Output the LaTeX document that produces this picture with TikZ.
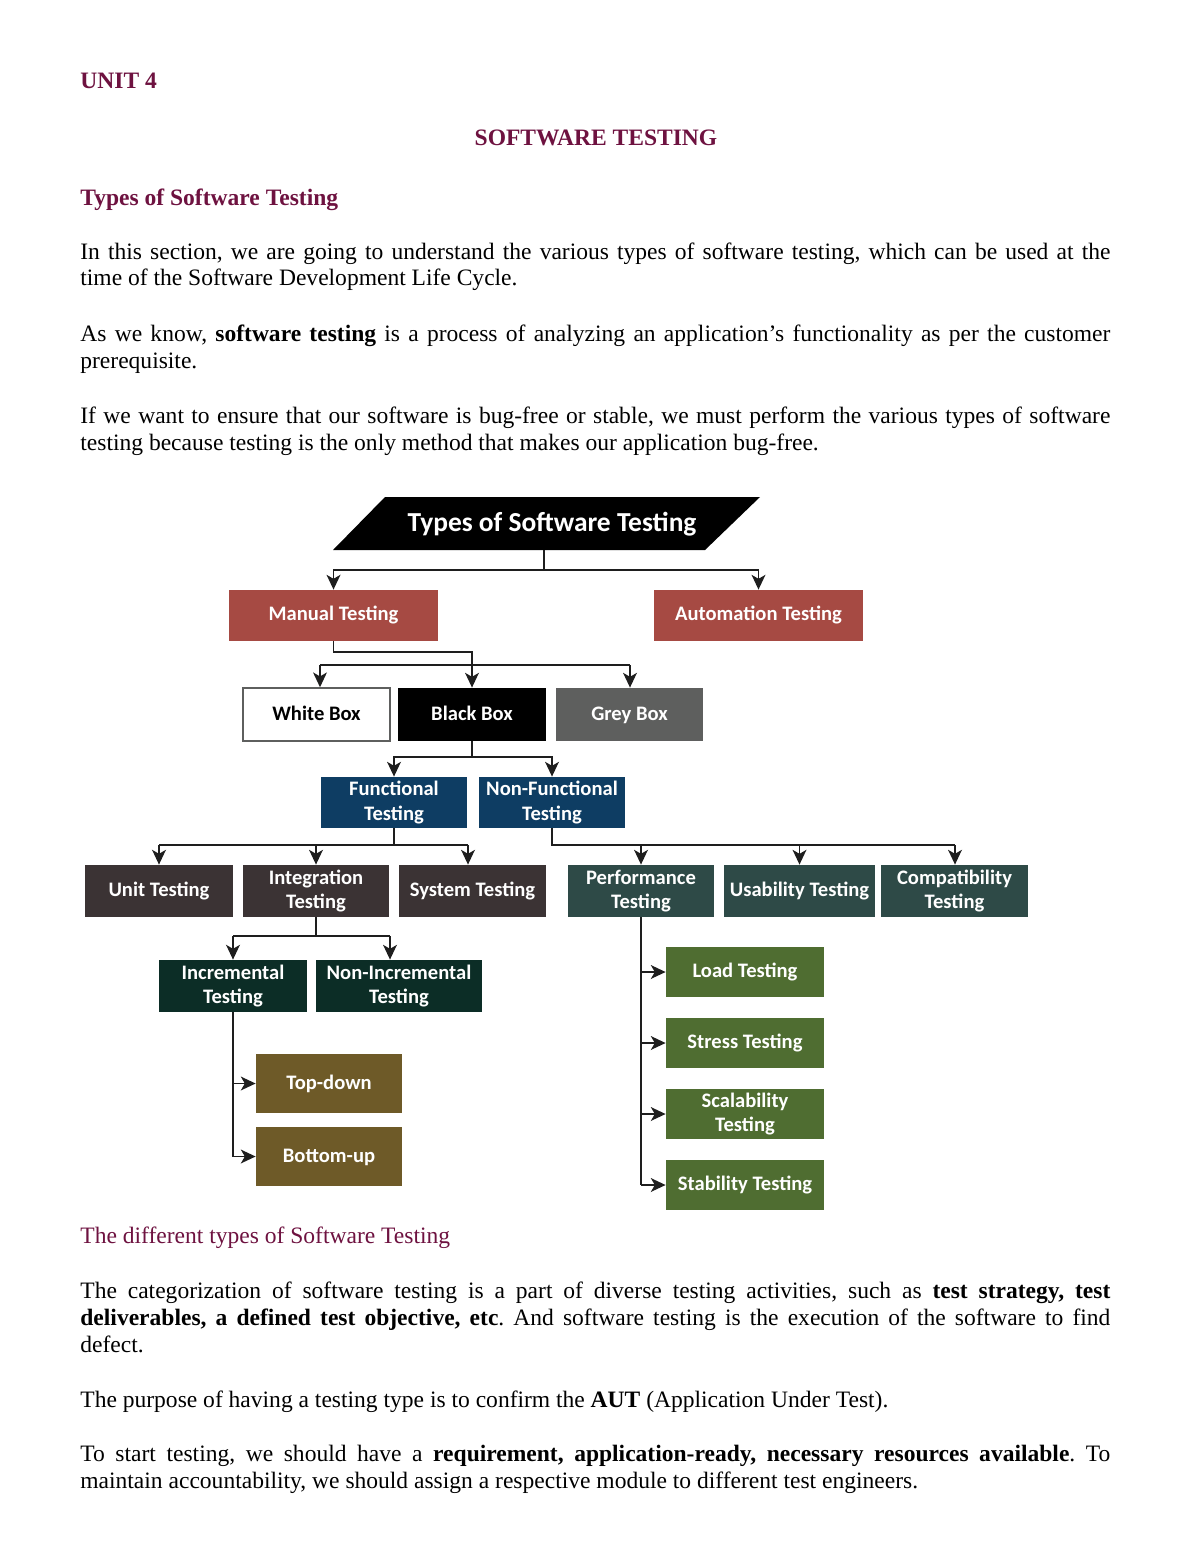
\documentclass[tikz,border=0pt]{standalone}
\usepackage{fontspec}
\setmainfont{Liberation Serif}
\newfontfamily\dfont{Carlito}
\usetikzlibrary{arrows.meta}
\definecolor{maroon}{HTML}{6E1240}
\definecolor{brick}{HTML}{A64A43}
\definecolor{greyb}{HTML}{5E5F5E}
\definecolor{navy}{HTML}{0E3D63}
\definecolor{darkbr}{HTML}{3B3334}
\definecolor{tealb}{HTML}{2E4A47}
\definecolor{dkgreen}{HTML}{0C2D26}
\definecolor{oliveb}{HTML}{6E5A28}
\definecolor{leaf}{HTML}{4F6D31}
\definecolor{linec}{HTML}{1E1E1E}
\newcommand\bodysize{\fontsize{12}{14}\selectfont}
% box from (x1,y1) to (x2,y2) in pixel coordinates
\newcommand\bx[7]{\node[box, #6, minimum width={(#4-#2)*0.51pt}, minimum height={(#5-#3)*0.51pt}] (#1) at ({(#2+#4)/2},{(#3+#5)/2}) {#7};}
\newcommand\onel{\rule[-0.2ex]{0pt}{1.65ex}}
\frenchspacing
\begin{document}
\begin{tikzpicture}[x=0.51pt,y=-0.51pt,
  box/.style={inner sep=0pt, align=center, text=white, font=\dfont\bfseries\fontsize{10.5}{12.5}\selectfont},
  ln/.style={draw=linec, line width=1pt},
  arr/.style={ln, -{Stealth[length=7.5pt,width=7pt,inset=2pt]}},
  txt/.style={anchor=base west, inner sep=0pt, font=\bodysize},
  head/.style={txt, text=maroon, font=\bodysize\bfseries}]
\useasboundingbox (0,0) rectangle (1200,1553);
\fill[white] (0,0) rectangle (1200,1553);
% headings and text
\node[head] (unit) at (80,89) {UNIT 4};
\node[head, anchor=base] (sw) at (596,146) {SOFTWARE TESTING};
\node[head] (types) at (80,205) {Types of Software Testing};
\node[txt] (p1a) at (80,259) {\makebox[525.3pt][s]{In this section, we are going to understand the various types of software testing, which can be used at the}};
\node[txt] (p1b) at (80,286) {time of the Software Development Life Cycle.};
\node[txt] (p2a) at (80,341) {\makebox[525.3pt][s]{As we know, \textbf{software testing} is a process of analyzing an application's functionality as per the customer}};
\node[txt] (p2b) at (80,368) {prerequisite.};
\node[txt] (p3a) at (80,423) {\makebox[525.3pt][s]{If we want to ensure that our software is bug-free or stable, we must perform the various types of software}};
\node[txt] (p3b) at (80,450) {testing because testing is the only method that makes our application bug-free.};
\node[txt, text=maroon] (cap) at (80,1243) {The different types of Software Testing};
\node[txt] (p4a) at (80,1298) {\makebox[525.3pt][s]{The categorization of software testing is a part of diverse testing activities, such as \textbf{test strategy, test}}};
\node[txt] (p4b) at (80,1325) {\makebox[525.3pt][s]{\textbf{deliverables, a defined test objective, etc}. And software testing is the execution of the software to find}};
\node[txt] (p4c) at (80,1352) {defect.};
\node[txt] (p5) at (80,1407) {The purpose of having a testing type is to confirm the \textbf{AUT} (Application Under Test).};
\node[txt] (p6a) at (80,1461) {\makebox[525.3pt][s]{To start testing, we should have a \textbf{requirement, application-ready, necessary resources available}. To}};
\node[txt] (p6b) at (80,1488) {maintain accountability, we should assign a respective module to different test engineers.};
% title parallelogram
\fill[black] (333,550) -- (385,497) -- (760,497) -- (705,550) -- cycle;
\node[box, font=\dfont\bfseries\fontsize{14}{16}\selectfont] (title) at (552,524) {Types of Software Testing};
\coordinate (tb) at (544,550);
% boxes
\bx{manual}{229}{590}{438}{641}{fill=brick}{\onel Manual Testing}
\bx{auto}{654}{590}{863}{641}{fill=brick}{\onel Automation Testing}
\bx{white}{243}{688}{390}{741}{fill=white, draw=greyb, line width=0.8pt, text=black}{\onel White Box}
\bx{black}{398}{688}{546}{741}{fill=black}{\onel Black Box}
\bx{grey}{556}{688}{703}{741}{fill=greyb}{\onel Grey Box}
\bx{func}{321}{777}{467}{828}{fill=navy}{Functional\\Testing}
\bx{nonfunc}{479}{777}{625}{828}{fill=navy}{Non-Functional\\Testing}
\bx{unitt}{85}{865}{233}{917}{fill=darkbr}{\onel Unit Testing}
\bx{integ}{243}{865}{389}{917}{fill=darkbr}{Integration\\Testing}
\bx{syst}{399}{865}{546}{917}{fill=darkbr}{\onel System Testing}
\bx{perf}{568}{865}{714}{917}{fill=tealb}{Performance\\Testing}
\bx{usab}{724}{865}{875}{917}{fill=tealb}{\onel Usability Testing}
\bx{compat}{881}{865}{1028}{917}{fill=tealb}{Compatibility\\Testing}
\bx{incr}{159}{960}{307}{1012}{fill=dkgreen}{Incremental\\Testing}
\bx{nonincr}{316}{960}{482}{1012}{fill=dkgreen}{Non-Incremental\\Testing}
\bx{topdown}{256}{1054}{402}{1113}{fill=oliveb}{\onel Top-down}
\bx{bottomup}{256}{1127}{402}{1186}{fill=oliveb}{\onel Bottom-up}
\bx{load}{666}{947}{824}{997}{fill=leaf}{\onel Load Testing}
\bx{stress}{666}{1018}{824}{1068}{fill=leaf}{\onel Stress Testing}
\bx{scal}{666}{1089}{824}{1139}{fill=leaf}{Scalability\\Testing}
\bx{stab}{666}{1160}{824}{1210}{fill=leaf}{\onel Stability Testing}
% connectors
\coordinate (j1) at (544,570);
\draw[ln] (tb) -- (j1);
\draw[arr] (j1) -| (manual.north);
\draw[arr] (j1) -| (auto.north);
\coordinate (j2) at (472,652);
\draw[arr] (manual.south) |- (j2) -- (black.north);
\coordinate (j3) at (320,665);
\coordinate (j3b) at (630,665);
\draw[ln] (j3) -- (j3b);
\draw[arr] (j3) -- (j3 |- white.north);
\draw[arr] (j3b) -- (j3b |- grey.north);
\coordinate (j4) at (472,757);
\draw[ln] (black.south) -- (j4);
\draw[arr] (j4) -| (func.north);
\draw[arr] (j4) -| (nonfunc.north);
\coordinate (j5) at (394,845);
\coordinate (j5a) at (159,845);
\coordinate (j5b) at (468,845);
\draw[ln] (func.south) -- (j5);
\draw[ln] (j5a) -- (j5b);
\draw[arr] (j5a) -- (unitt.north);
\draw[arr] (316,845) -- (integ.north);
\draw[arr] (j5b) -- (j5b |- syst.north);
\coordinate (j6) at (552,845);
\coordinate (j6b) at (955,845);
\draw[ln] (nonfunc.south) -- (j6) -- (j6b);
\draw[arr] (641,845) -- (perf.north);
\draw[arr] (799.5,845) -- (usab.north);
\draw[arr] (j6b) -- (j6b |- compat.north);
\coordinate (j7) at (316,936);
\coordinate (j7a) at (233,936);
\coordinate (j7b) at (390,936);
\draw[ln] (integ.south) -- (j7);
\draw[ln] (j7a) -- (j7b);
\draw[arr] (j7a) -- (incr.north);
\draw[arr] (j7b) -- (j7b |- nonincr.north);
\coordinate (j8) at (233,1156.5);
\draw[ln] (incr.south) -- (j8);
\draw[arr] (incr.south |- topdown.west) -- (topdown.west);
\draw[arr] (j8) -- (bottomup.west);
\coordinate (j9) at (641,1185);
\draw[ln] (perf.south) -- (j9);
\draw[arr] (perf.south |- load.west) -- (load.west);
\draw[arr] (perf.south |- stress.west) -- (stress.west);
\draw[arr] (perf.south |- scal.west) -- (scal.west);
\draw[arr] (j9) -- (stab.west);
\end{tikzpicture}
\end{document}
